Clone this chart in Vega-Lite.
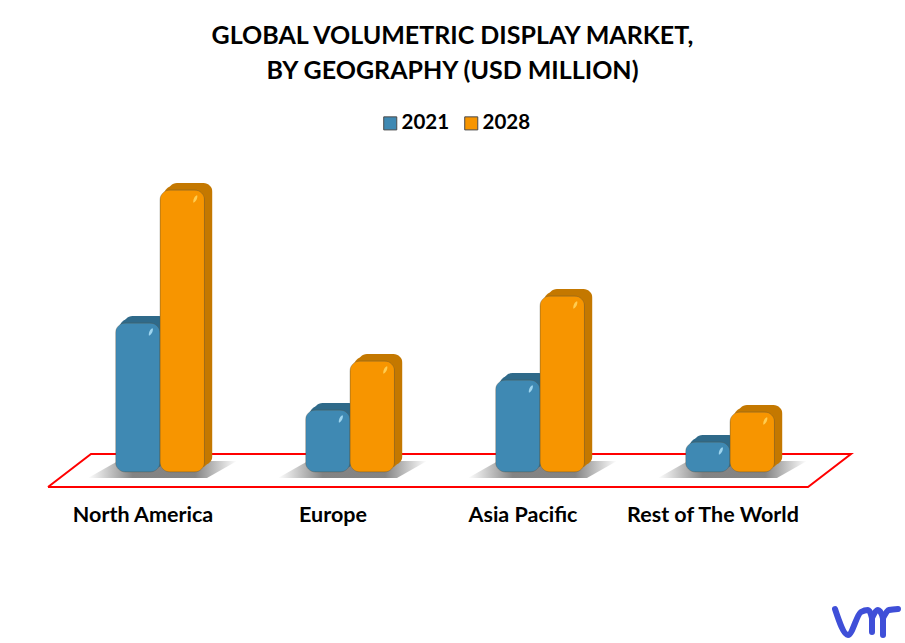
{
  "$schema": "https://vega.github.io/schema/vega-lite/v6.json",
  "title": {
    "text": ["GLOBAL VOLUMETRIC DISPLAY MARKET,", "BY GEOGRAPHY (USD MILLION)"],
    "anchor": "middle",
    "frame": "group",
    "font": "Lato",
    "fontSize": 25,
    "fontWeight": "bold",
    "color": "#000000",
    "lineHeight": 35,
    "offset": 29
  },
  "width": 905,
  "height": 493,
  "padding": {"left": 0, "right": 0, "top": 150, "bottom": 0},
  "autosize": {"type": "none"},
  "background": "#ffffff",
  "config": {"view": {"stroke": null}},
  "datasets": {
    "market": [
      {"region": "North America", "year": "2021", "value": 149},
      {"region": "North America", "year": "2028", "value": 282},
      {"region": "Europe", "year": "2021", "value": 62},
      {"region": "Europe", "year": "2028", "value": 111},
      {"region": "Asia Pacific", "year": "2021", "value": 92},
      {"region": "Asia Pacific", "year": "2028", "value": 176},
      {"region": "Rest of The World", "year": "2021", "value": 30},
      {"region": "Rest of The World", "year": "2028", "value": 60}
    ],
    "floor": [
      {"step": 1, "px": 48, "v": -15},
      {"step": 2, "px": 91, "v": 18},
      {"step": 3, "px": 851, "v": 18},
      {"step": 4, "px": 808, "v": -15},
      {"step": 5, "px": 48, "v": -15}
    ],
    "shadow": [
      {"region": "North America", "v": 11, "px": 118, "px2": 237},
      {"region": "North America", "v": -6, "px": 88, "px2": 207},
      {"region": "Europe", "v": 11, "px": 308, "px2": 427},
      {"region": "Europe", "v": -6, "px": 278, "px2": 397},
      {"region": "Asia Pacific", "v": 11, "px": 498, "px2": 617},
      {"region": "Asia Pacific", "v": -6, "px": 468, "px2": 587},
      {"region": "Rest of The World", "v": 11, "px": 688, "px2": 807},
      {"region": "Rest of The World", "v": -6, "px": 658, "px2": 777}
    ],
    "logo": [
      {"part": "v", "step": 1, "px": 835, "v": -137},
      {"part": "v", "step": 2, "px": 848, "v": -163},
      {"part": "v", "step": 3, "px": 861, "v": -140},
      {"part": "v", "step": 4, "px": 868, "v": -138},
      {"part": "v", "step": 5, "px": 872, "v": -146},
      {"part": "v", "step": 6, "px": 872, "v": -160},
      {"part": "m", "step": 1, "px": 872, "v": -146},
      {"part": "m", "step": 2, "px": 878, "v": -138},
      {"part": "m", "step": 3, "px": 883, "v": -146},
      {"part": "m", "step": 4, "px": 883, "v": -163},
      {"part": "r", "step": 1, "px": 883, "v": -146},
      {"part": "r", "step": 2, "px": 889, "v": -138},
      {"part": "r", "step": 3, "px": 898, "v": -137}
    ]
  },
  "resolve": {"scale": {"x": "independent", "y": "independent", "fill": "independent", "xOffset": "independent"}},
  "layer": [
    {
      "encoding": {
        "x": {"field": "px", "type": "quantitative", "axis": null, "scale": {"domain": [0, 905], "range": [0, 905], "nice": false, "zero": false}},
        "y": {"field": "v", "type": "quantitative", "axis": null, "scale": {"domain": [0, 282], "range": [322, 40], "nice": false, "zero": false}}
      },
      "layer": [
        {
          "description": "red floor",
          "data": {"name": "floor"},
          "mark": {"type": "line", "stroke": "#ff0000", "strokeWidth": 2, "strokeJoin": "miter"},
          "encoding": {"order": {"field": "step", "type": "ordinal"}}
        },
        {
          "description": "bar shadows",
          "data": {"name": "shadow"},
          "mark": {
            "type": "area",
            "orient": "horizontal",
            "color": {
              "gradient": "linear", "x1": 0, "y1": 0, "x2": 1, "y2": 0,
              "stops": [
                {"offset": 0, "color": "rgba(125,125,125,0)"},
                {"offset": 0.3, "color": "rgba(125,125,125,0.95)"},
                {"offset": 0.72, "color": "rgba(125,125,125,0.95)"},
                {"offset": 1, "color": "rgba(125,125,125,0)"}
              ]
            }
          },
          "encoding": {
            "x2": {"field": "px2"},
            "detail": {"field": "region", "type": "nominal"}
          }
        },
        {
          "description": "logo",
          "data": {"name": "logo"},
          "mark": {"type": "line", "stroke": "#3f4fd8", "strokeWidth": 6, "strokeCap": "round", "strokeJoin": "round", "interpolate": "monotone"},
          "encoding": {
            "detail": {"field": "part", "type": "nominal"},
            "order": {"field": "step", "type": "ordinal"}
          }
        }
      ]
    },
    {
      "description": "extruded side, front step",
      "data": {"name": "market"},
      "mark": {"type": "bar", "cornerRadius": 9},
      "encoding": {
        "x": {"field": "region", "type": "nominal", "sort": null, "axis": null, "scale": {"range": [69, 829], "paddingInner": 0.532, "paddingOuter": 0.266}},
        "xOffset": {"field": "year", "type": "nominal", "scale": {"paddingInner": 0, "paddingOuter": 0}},
        "y": {"field": "value", "type": "quantitative", "axis": null, "scale": {"domain": [0, 282], "range": [318, 36], "nice": false, "zero": false}},
        "fill": {"field": "year", "type": "nominal", "legend": null, "scale": {"domain": ["2021", "2028"], "range": ["#2f6a8a", "#c47800"]}}
      }
    },
    {
      "description": "extruded side, back",
      "data": {"name": "market"},
      "mark": {"type": "bar", "cornerRadius": 9},
      "encoding": {
        "x": {"field": "region", "type": "nominal", "sort": null, "axis": null, "scale": {"range": [73, 833], "paddingInner": 0.532, "paddingOuter": 0.266}},
        "xOffset": {"field": "year", "type": "nominal", "scale": {"paddingInner": 0, "paddingOuter": 0}},
        "y": {"field": "value", "type": "quantitative", "axis": null, "scale": {"domain": [0, 282], "range": [315, 33], "nice": false, "zero": false}},
        "fill": {"field": "year", "type": "nominal", "legend": null, "scale": {"domain": ["2021", "2028"], "range": ["#2f6a8a", "#c47800"]}}
      }
    },
    {
      "description": "front face",
      "data": {"name": "market"},
      "mark": {"type": "bar", "cornerRadius": 10, "stroke": "#55503f", "strokeWidth": 0.6, "strokeOpacity": 0.5},
      "encoding": {
        "x": {
          "field": "region",
          "type": "nominal",
          "sort": null,
          "title": null,
          "scale": {"range": [65, 825], "paddingInner": 0.532, "paddingOuter": 0.266},
          "axis": {
            "domain": false,
            "ticks": false,
            "labelAngle": 0,
            "labelFont": "Lato",
            "labelFontSize": 21.5,
            "labelFontWeight": "bold",
            "labelColor": "#000000",
            "labelPadding": 0,
            "labelOffset": -17,
            "offset": -139
          }
        },
        "xOffset": {"field": "year", "type": "nominal", "scale": {"paddingInner": 0, "paddingOuter": 0}},
        "y": {"field": "value", "type": "quantitative", "axis": null, "scale": {"domain": [0, 282], "range": [322, 40], "nice": false, "zero": false}},
        "fill": {
          "field": "year",
          "type": "nominal",
          "scale": {"domain": ["2021", "2028"], "range": ["#3f89b3", "#f79500"]},
          "legend": {
            "title": null,
            "orient": "none",
            "legendX": 380,
            "legendY": -37,
            "direction": "horizontal",
            "columns": 2,
            "symbolType": "square",
            "symbolSize": 170,
            "symbolStrokeColor": "#4a4a4a",
            "symbolStrokeWidth": 1,
            "labelFont": "Lato",
            "labelFontSize": 20.5,
            "labelFontWeight": "bold",
            "labelColor": "#000000",
            "columnPadding": 11,
            "labelOffset": 1
          }
        }
      }
    },
    {
      "description": "gloss spot",
      "data": {"name": "market"},
      "mark": {"type": "point", "shape": "M-0.5,1 C-0.7,0.2 0,-1 0.5,-1 C0.8,-0.6 0.2,0.9 -0.5,1 Z", "size": 55, "filled": true, "opacity": 0.9, "yOffset": 9},
      "encoding": {
        "x": {"field": "region", "type": "nominal", "sort": null, "axis": null, "scale": {"type": "band", "range": [78, 838], "paddingInner": 0.532, "paddingOuter": 0.266}},
        "xOffset": {"field": "year", "type": "nominal", "scale": {"type": "band", "paddingInner": 0, "paddingOuter": 0}},
        "y": {"field": "value", "type": "quantitative", "axis": null, "scale": {"domain": [0, 282], "range": [322, 40], "nice": false, "zero": false}},
        "fill": {"field": "year", "type": "nominal", "legend": null, "scale": {"domain": ["2021", "2028"], "range": ["#a9def5", "#ffd35a"]}}
      }
    }
  ]
}
